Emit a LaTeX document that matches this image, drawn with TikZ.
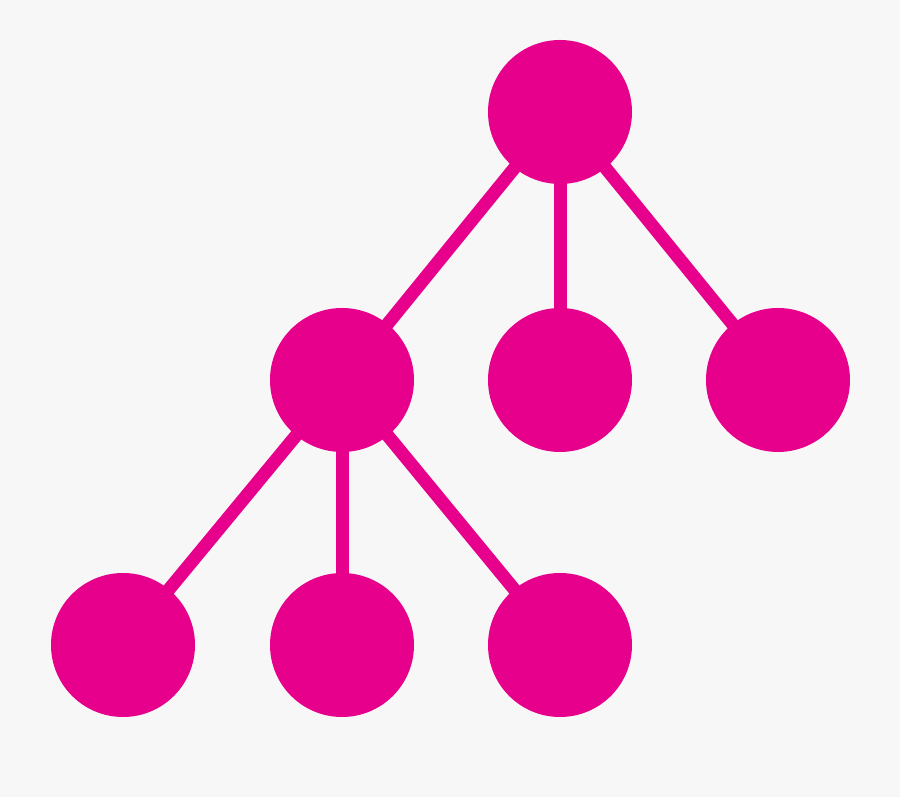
\documentclass[tikz,border=0pt]{standalone}
\usepackage{tikz}
\definecolor{treepink}{HTML}{E6008C}
\definecolor{paper}{HTML}{F7F7F7}
\tikzset{
  leaf/.style = {circle, fill = treepink, minimum size = 1.44cm, inner sep = 0pt, outer sep = 0pt},
  branch/.style = {draw = treepink, line width = 0.13cm, shorten < = -3pt, shorten > = -3pt}
}
\begin{document}
\begin{tikzpicture}
\fill [paper] (0,0) rectangle (9,7.97);
\useasboundingbox (0,0) rectangle (9,7.97);
\node [leaf] (root) at (5.60,6.85) {};
\node [leaf] (m1) at (3.42,4.17) {};
\node [leaf] (m2) at (5.60,4.17) {};
\node [leaf] (m3) at (7.78,4.17) {};
\node [leaf] (b1) at (1.23,1.52) {};
\node [leaf] (b2) at (3.42,1.52) {};
\node [leaf] (b3) at (5.60,1.52) {};
\draw [branch] (root) -- (m1);
\draw [branch] (root) -- (m2);
\draw [branch] (root) -- (m3);
\draw [branch] (m1) -- (b1);
\draw [branch] (m1) -- (b2);
\draw [branch] (m1) -- (b3);
\end{tikzpicture}
\end{document}
